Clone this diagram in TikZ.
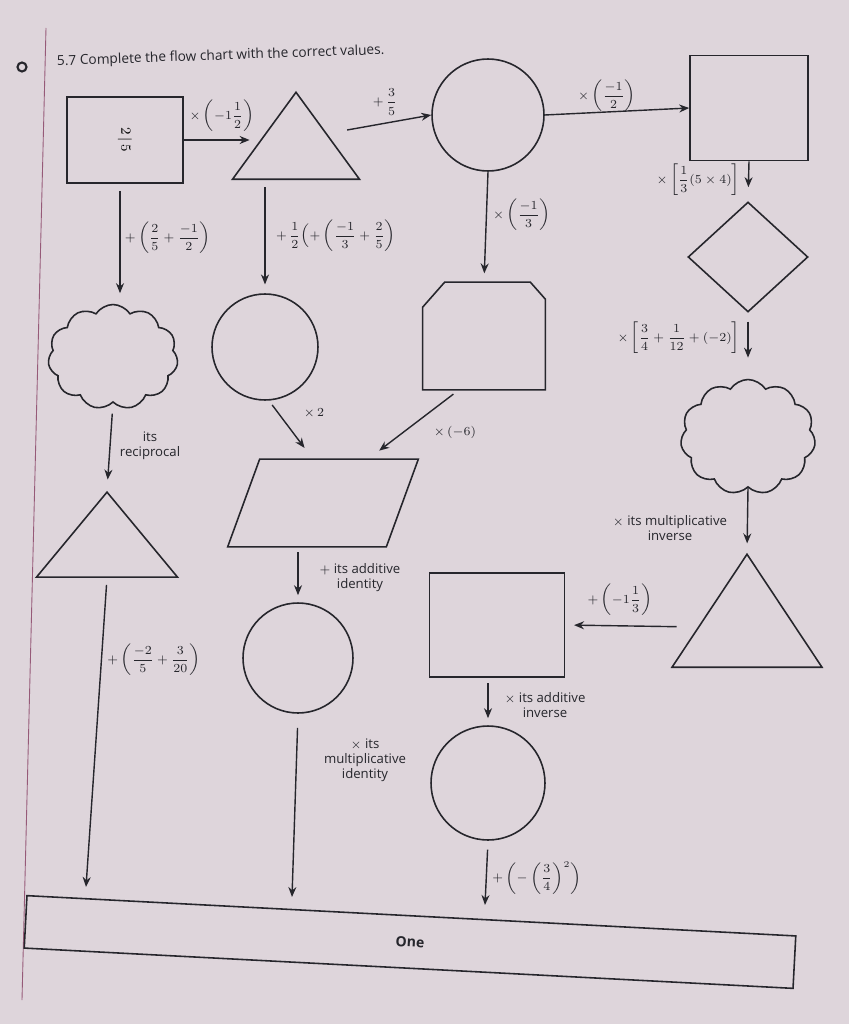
\documentclass[tikz,border=0pt]{standalone}
\usepackage{amsmath}
\usepackage{fontspec}
\setmainfont{Open Sans}
\usetikzlibrary{shapes.geometric,shapes.symbols,arrows.meta}
\definecolor{paper}{RGB}{222,213,219}
\definecolor{inkc}{RGB}{38,38,44}
\definecolor{marg}{RGB}{150,90,120}
\tikzset{
  ink/.style={draw=inkc, line width=0.9pt},
  box/.style={ink, rectangle, inner sep=0pt},
  ghost/.style={rectangle, inner sep=0pt},
  ring/.style={ink, circle, inner sep=0pt},
  tri/.style={ink, isosceles triangle, shape border rotate=90, isosceles triangle stretches, inner sep=0pt},
  puff/.style={ink, cloud, cloud puffs=11, cloud puff arc=115, cloud ignores aspect, inner sep=0pt},
  flow/.style={draw=inkc, line width=0.8pt, -{Stealth[length=2mm,width=1.6mm]}},
  lbl/.style={font=\fontsize{7.5}{8.5}\selectfont, text=inkc, align=center, inner sep=1pt},
}
\begin{document}
\begin{tikzpicture}[x=0.02cm, y=-0.02cm]
    \fill[paper] (0,0) rectangle (849,1024);
    \useasboundingbox (0,0) rectangle (849,1024);
    % page margin
    \draw[marg, line width=0.5pt] (46,28) -- (22,1000);
    \node[ring, minimum size=0.18cm, line width=1.2pt] (icon) at (22,67) {};
    \node[lbl, anchor=west, font=\fontsize{7.8}{9}\selectfont, rotate=2] (title) at (55,62) {5.7 Complete the flow chart with the correct values.};
    % top row
    \node[box, minimum width=2.32cm, minimum height=1.72cm] (r1) at (125,140) {\rotatebox{-90}{\fontsize{8}{8}\selectfont$2\,|\,5$}};
    \node[tri, minimum width=2.54cm, minimum height=1.74cm] (t1) at (296,147) {};
    \node[ring, minimum size=2.24cm] (c1) at (488,115) {};
    \node[box, minimum width=2.36cm, minimum height=2.1cm] (r2) at (749,108) {};
    \node[ink, diamond, inner sep=0pt, minimum width=2.4cm, minimum height=2.2cm] (d1) at (748,257) {};
    \node[puff, minimum width=2.7cm, minimum height=2.3cm] (cl1) at (748,437) {};
    \node[tri, minimum width=3cm, minimum height=2.26cm] (t2) at (747,627) {};
    \node[box, minimum width=2.7cm, minimum height=2.08cm] (r3) at (497,625) {};
    \node[ring, minimum size=2.28cm] (c2) at (488,783) {};
    % middle
    \node[ring, minimum size=2.12cm] (c3) at (265,347) {};
    \node[ghost, minimum width=2.44cm, minimum height=2.14cm] (r4) at (484,336) {};
    \draw[ink] (r4.south west) -- ([yshift=-0.5cm]r4.north west) -- ([xshift=0.44cm]r4.north west)
      -- ([xshift=-0.3cm]r4.north east) -- ([yshift=-0.34cm]r4.north east) -- (r4.south east) -- cycle;
    \node[ghost, minimum width=3.8cm, minimum height=1.74cm] (p1) at (323,503) {};
    \draw[ink] (p1.south west) -- ([xshift=0.64cm]p1.north west) -- (p1.north east)
      -- ([xshift=-0.64cm]p1.south east) -- cycle;
    \node[ring, minimum size=2.2cm] (c4) at (298,658) {};
    % left
    \node[puff, minimum width=2.6cm, minimum height=2.1cm] (cl2) at (113,357) {};
    \node[tri, minimum width=2.82cm, minimum height=1.7cm] (t3) at (107,544) {};
    % bottom
    \node[box, rotate=-3, minimum width=15.4cm, minimum height=1.05cm, font=\fontsize{8}{9}\selectfont\bfseries, text=inkc] (one) at (410,942) {One};
    \coordinate (e1) at (86,887);
    \coordinate (e2) at (292,897);
    \coordinate (e3) at (485,905);
    % connectors
    \draw[flow, shorten >=3pt] (r1.east) -- (r1.east -| t1.west);
    \draw[flow] ([xshift=0.2cm, yshift=0.34cm]t1.east) -- (c1.west);
    \draw[flow] (c1.east) -- (r2.west);
    \draw[flow, shorten >=8pt] (r2.south) -- (d1.north);
    \draw[flow, shorten <=5pt, shorten >=12pt] (d1.south) -- (cl1.north);
    \draw[flow, shorten >=5pt] (cl1.south) -- (t2.apex);
    \draw[flow, shorten <=12pt, shorten >=5pt] (t2.west) -- (r3.east);
    \draw[flow, shorten <=3pt, shorten >=4pt] (r3.south -| c2.north) -- (c2.north);
    \draw[flow, shorten <=5pt] (c2.south) -- (e3);
    \draw[flow, shorten <=4pt, shorten >=6pt] (r1.south -| 120,0) -- (cl2.north -| 120,0);
    \draw[flow, shorten <=6pt, shorten >=6pt] (cl2.south) -- (t3.apex);
    \draw[flow, shorten <=4pt] (t3.south) -- (e1);
    \draw[flow, shorten <=4pt, shorten >=5pt] (t1.south -| c3.north) -- (c3.north);
    \draw[flow, shorten <=3pt, shorten >=8pt] ([xshift=0.08cm]c3.south) -- ([xshift=-0.2cm]p1.north);
    \draw[flow, shorten >=5pt] (c1.south) -- (r4.north);
    \draw[flow, shorten <=4pt, shorten >=8pt] ([xshift=-0.5cm]r4.south) -- ([xshift=0.9cm]p1.north);
    \draw[flow, shorten <=3pt, shorten >=4pt] (p1.south -| c4.north) -- (c4.north);
    \draw[flow, shorten <=8pt] (c4.south) -- (e2);
    % labels
    \node[lbl] (l1) at (222,116) {$\times\left(-1\dfrac{1}{2}\right)$};
    \node[lbl] (l2) at (385,102) {$+\,\dfrac{3}{5}$};
    \node[lbl] (l3) at (607,96) {$\times\left(\dfrac{-1}{2}\right)$};
    \node[lbl, anchor=east] (l4) at (742,180) {$\times\left[\dfrac{1}{3}(5\times4)\right]$};
    \node[lbl, anchor=east] (l5) at (742,338) {$\times\left[\dfrac{3}{4}+\dfrac{1}{12}+(-2)\right]$};
    \node[lbl] (l6) at (670,528) {$\times$ its multiplicative\\inverse};
    \node[lbl] (l7) at (620,600) {$+\left(-1\dfrac{1}{3}\right)$};
    \node[lbl] (l8) at (545,705) {$\times$ its additive\\inverse};
    \node[lbl] (l9) at (537,878) {$+\left(-\left(\dfrac{3}{4}\right)^{2}\right)$};
    \node[lbl] (l10) at (168,238) {$+\left(\dfrac{2}{5}+\dfrac{-1}{2}\right)$};
    \node[lbl] (l11) at (336,236) {$+\,\dfrac{1}{2}\Bigl(+\left(\dfrac{-1}{3}+\dfrac{2}{5}\right)$};
    \node[lbl] (l12) at (522,215) {$\times\left(\dfrac{-1}{3}\right)$};
    \node[lbl] (l13) at (314,413) {$\times\,2$};
    \node[lbl] (l14) at (455,432) {$\times\,(-6)$};
    \node[lbl] (l15) at (150,446) {its\\reciprocal};
    \node[lbl] (l16) at (154,660) {$+\left(\dfrac{-2}{5}+\dfrac{3}{20}\right)$};
    \node[lbl] (l17) at (360,578) {$+$ its additive\\identity};
    \node[lbl] (l18) at (365,760) {$\times$ its\\multiplicative\\identity};
\end{tikzpicture}
\end{document}
